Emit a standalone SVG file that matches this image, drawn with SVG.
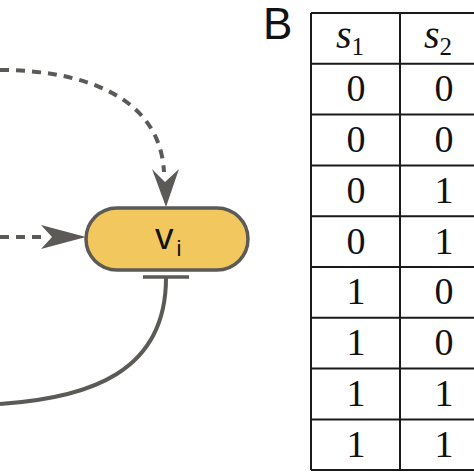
<svg xmlns="http://www.w3.org/2000/svg" width="474" height="474" viewBox="0 0 474 474">
<style>
.edge{fill:none;stroke:#5b5a57;stroke-width:4}
.dash{stroke-dasharray:9 7}
.head{fill:#5b5a57;stroke:none}
.tl{stroke:#1a1a1a;stroke-width:2;fill:none}
</style>
<rect width="474" height="474" fill="#ffffff"/>
<g id="connectors">
<path class="edge dash" d="M0,70 C80,70 160,95 164,172"/>
<polygon class="head" points="166,207 152,169 165,182 179,169"/>
<path class="edge dash" d="M0,237 L48,237"/>
<polygon class="head" points="86,237 41,225 52,237 41,249"/>
<path class="edge" d="M166,278 C166,372 90,398 0,404"/>
<line x1="143" y1="277" x2="189" y2="277" stroke="#5b5a57" stroke-width="3.5"/>
</g>
<g id="node-vi">
<rect x="86" y="208" width="162" height="62" rx="31" fill="#f2c85e" stroke="#5b5a57" stroke-width="3.5"/>
<text x="155" y="249" font-family="Liberation Sans, Arial, sans-serif" font-size="37" fill="#111111">v<tspan font-size="22" dx="3" dy="7">i</tspan></text>
</g>
<g id="label-B">
<text x="263" y="39" font-family="Liberation Sans, Arial, sans-serif" font-size="44" fill="#111111">B</text>
</g>
<g id="table" font-family="Liberation Serif, serif" fill="#111111" text-anchor="middle">
<path class="tl" d="M311,13 V470 M400,13 V470 M311,13 H474 M311,63.8 H474 M311,114.6 H474 M311,165.4 H474 M311,216.2 H474 M311,267 H474 M311,317.8 H474 M311,368.6 H474 M311,419.4 H474 M311,470 H474"/>
<text x="350" y="48" font-size="40" font-style="italic">s<tspan font-style="normal" font-size="25" dy="7">1</tspan></text>
<text x="438" y="48" font-size="40" font-style="italic">s<tspan font-style="normal" font-size="25" dy="7">2</tspan></text>
<g font-size="38">
<text x="356" y="101">0</text><text x="444" y="101">0</text>
<text x="356" y="152">0</text><text x="444" y="152">0</text>
<text x="356" y="203">0</text><text x="444" y="203">1</text>
<text x="356" y="254">0</text><text x="444" y="254">1</text>
<text x="356" y="304">1</text><text x="444" y="304">0</text>
<text x="356" y="355">1</text><text x="444" y="355">0</text>
<text x="356" y="406">1</text><text x="444" y="406">1</text>
<text x="356" y="457">1</text><text x="444" y="457">1</text>
</g>
</g>
</svg>
